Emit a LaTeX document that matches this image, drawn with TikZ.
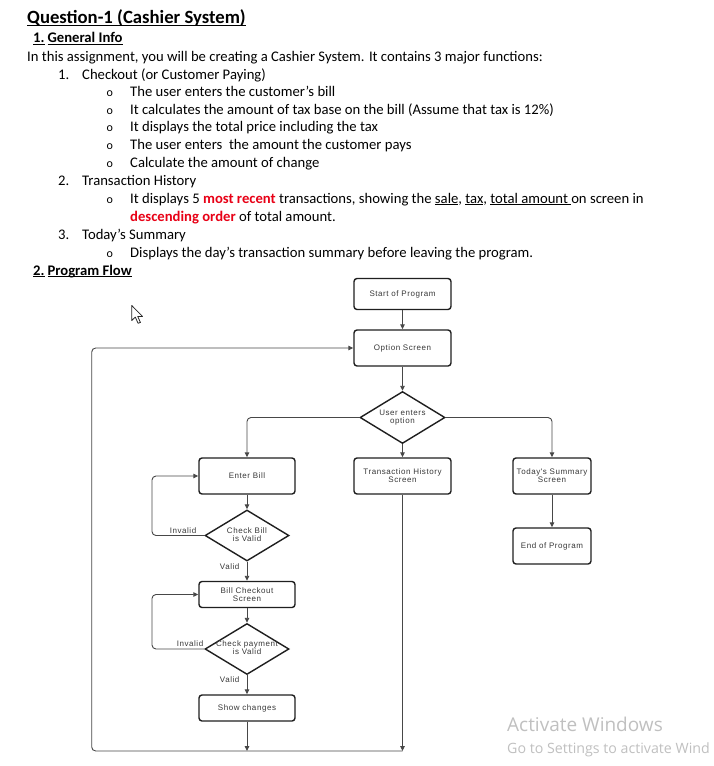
\documentclass[tikz,border=0pt]{standalone}
\usepackage{fontspec}
\setmainfont{Carlito}
\newfontfamily\flowfont{Liberation Sans}[LetterSpace=7]
\newfontfamily\winfont{Open Sans}
\usetikzlibrary{arrows.meta,shapes.geometric}
\definecolor{redtxt}{RGB}{232,0,22}
\definecolor{wmgrey}{RGB}{192,192,192}
\newcommand\bodysize{\fontsize{14.67}{18}\selectfont}
\newcommand\flowsize{\flowfont\fontsize{8}{8}\selectfont}
\newcommand\xul[3]{\leavevmode\setbox0\hbox{#3}\rlap{\rule[-#1]{\wd0}{#2}}\box0}
\newcommand\dtext[2]{\smash{\raisebox{-2pt}{\makebox[0pt]{\begin{tabular}{@{}c@{}}#1\\#2\end{tabular}}}}}
\tikzset{
  body/.style={anchor=base west, inner sep=0pt, font=\bodysize},
  bul/.style={anchor=base west, inner sep=0pt, font=\fontsize{12}{14}\selectfont},
  flowbox/.style={draw=black!88, line width=1.4pt, rounded corners=3pt, font=\flowsize, text=black!78, align=center, inner sep=0pt},
  flowdia/.style={diamond, draw=black!88, line width=1.4pt, font=\flowsize, text=black!78, inner sep=0pt},
  conn/.style={draw=black!72, line width=0.9pt, rounded corners=4pt, -{Triangle[length=5pt,width=4.5pt]}},
  flbl/.style={font=\flowsize, text=black!78, inner sep=0pt},
}
\begin{document}
\begin{tikzpicture}[x=1pt,y=-1pt]
\useasboundingbox (0,0) rectangle (714,766);
\fill[white] (0,0) rectangle (714,766);

% headings and text
\node[anchor=base west, inner sep=0pt, font=\bfseries\fontsize{18.7}{22}\selectfont] (title) at (27,23) {\xul{3pt}{1.3pt}{Question-1 (Cashier System)}};
\node[body, font=\bfseries\bodysize] (gi) at (33,42.7) {\xul{1.8pt}{1pt}{1.}\hspace{3pt}\xul{1.8pt}{1pt}{General Info}};
\node[body] (l1) at (27,61) {In this assignment, you will be creating a Cashier System. It contains 3 major functions:};
\node[body] (n1) at (58,79) {1.};
\node[body] (t1) at (82,79) {Checkout (or Customer Paying)};
\node[bul] (b1) at (106.5,96.7) {o};
\node[body] (t2) at (130,96.7) {The user enters the customer’s bill};
\node[bul] (b2) at (106.5,114.3) {o};
\node[body] (t3) at (130,114.3) {It calculates the amount of tax base on the bill (Assume that tax is 12\%)};
\node[bul] (b3) at (106.5,131.7) {o};
\node[body] (t4) at (130,131.7) {It displays the total price including the tax};
\node[bul] (b4) at (106.5,149.3) {o};
\node[body] (t5) at (130,149.3) {The user enters\ \ the amount the customer pays};
\node[bul] (b5) at (106.5,167.3) {o};
\node[body] (t6) at (130,167.3) {Calculate the amount of change};
\node[body] (n2) at (58,185.3) {2.};
\node[body] (t7) at (82,185.3) {Transaction History};
\node[bul] (b6) at (106.5,203.3) {o};
\node[body] (t8) at (130,203.3) {It displays 5 \textcolor{redtxt}{\bfseries most recent} transactions, showing the \xul{1.8pt}{0.9pt}{sale}, \xul{1.8pt}{0.9pt}{tax}, \xul{1.8pt}{0.9pt}{total amount }on screen in};
\node[body] (t9) at (130,221.3) {\textcolor{redtxt}{\bfseries descending order} of total amount.};
\node[body] (n3) at (58,239.3) {3.};
\node[body] (t10) at (82,239.3) {Today’s Summary};
\node[bul] (b7) at (106.5,257.3) {o};
\node[body] (t11) at (130,257.3) {Displays the day’s transaction summary before leaving the program.};
\node[body, font=\bfseries\bodysize] (pf) at (33,275) {\xul{1.8pt}{1pt}{2.}\hspace{3pt}\xul{1.8pt}{1pt}{Program Flow}};

% mouse cursor
\draw[black!85, line width=0.8pt, fill=white, line join=round] (131.7,305.5) -- ++(0,15) -- ++(3.6,-3.4) -- ++(2.8,6.2) -- ++(2.3,-0.9) -- ++(-2.7,-6) -- ++(4.8,0) -- cycle;

% flowchart nodes
\node[flowbox, minimum width=97pt, minimum height=31pt] (start) at (402.5,294) {Start of Program};
\node[flowbox, minimum width=97pt, minimum height=36pt] (opt) at (402.5,348) {Option Screen};
\node[flowdia, minimum width=85pt, minimum height=52pt] (dec) at (402.5,417.5) {\dtext{User enters}{option}};
\node[flowbox, minimum width=96pt, minimum height=36pt] (bill) at (247,476) {Enter Bill};
\node[flowbox, minimum width=97pt, minimum height=36pt] (th) at (402.5,476) {Transaction History\\Screen};
\node[flowbox, minimum width=78pt, minimum height=36pt] (ts) at (552,476) {Today's Summary\\Screen};
\node[flowbox, minimum width=78pt, minimum height=36pt] (end) at (552,546) {End of Program};
\node[flowdia, minimum width=84pt, minimum height=51pt] (chkb) at (247,535.5) {\dtext{Check Bill}{is Valid}};
\node[flowbox, minimum width=96pt, minimum height=26pt] (bco) at (247,594.5) {Bill Checkout\\Screen};
\node[flowdia, minimum width=84pt, minimum height=51pt] (chkp) at (247,649) {\dtext{Check payment}{is Valid}};
\node[flowbox, minimum width=96pt, minimum height=26pt] (show) at (247,708) {Show changes};

\coordinate (botS) at (247,751);
\coordinate (botR) at (402.5,751);
\coordinate (loopBL) at (91.7,751);

% connectors
\draw[conn] (start) -- (opt);
\draw[conn] (opt) -- (dec);
\draw[conn] (dec.west) -| (bill.north);
\draw[conn] (dec.east) -| (ts.north);
\draw[conn] (dec.south) -- (th.north);
\draw[conn] (ts) -- (end);
\draw[conn] (bill) -- (chkb);
\draw[conn] (chkb.west) -- ++(-52.3,0) |- (bill.west);
\draw[conn] (chkb.south) -- (bco.north);
\draw[conn] (bco) -- (chkp);
\draw[conn] (chkp.west) -- ++(-52.3,0) |- (bco.west);
\draw[conn] (chkp.south) -- (show.north);
\draw[conn] (show.south) -- (botS);
\draw[conn] (th.south) -- (botR);
\draw[conn] (botR) -- (loopBL) |- (opt.west);

% labels
\node[flbl] (inv1) at (183,530.7) {Invalid};
\node[flbl] (val1) at (229.7,566.7) {Valid};
\node[flbl] (inv2) at (190,643.3) {Invalid};
\node[flbl] (val2) at (229.7,679.3) {Valid};

% watermark
\node[anchor=base west, inner sep=0pt, text=wmgrey, font=\winfont\fontsize{19}{22}\selectfont] (wm1) at (507,731.5) {Activate Windows};
\node[anchor=base west, inner sep=0pt, text=wmgrey, font=\winfont\fontsize{14.2}{17}\selectfont] (wm2) at (507,753.3) {Go to Settings to activate Wind};
\end{tikzpicture}
\end{document}
